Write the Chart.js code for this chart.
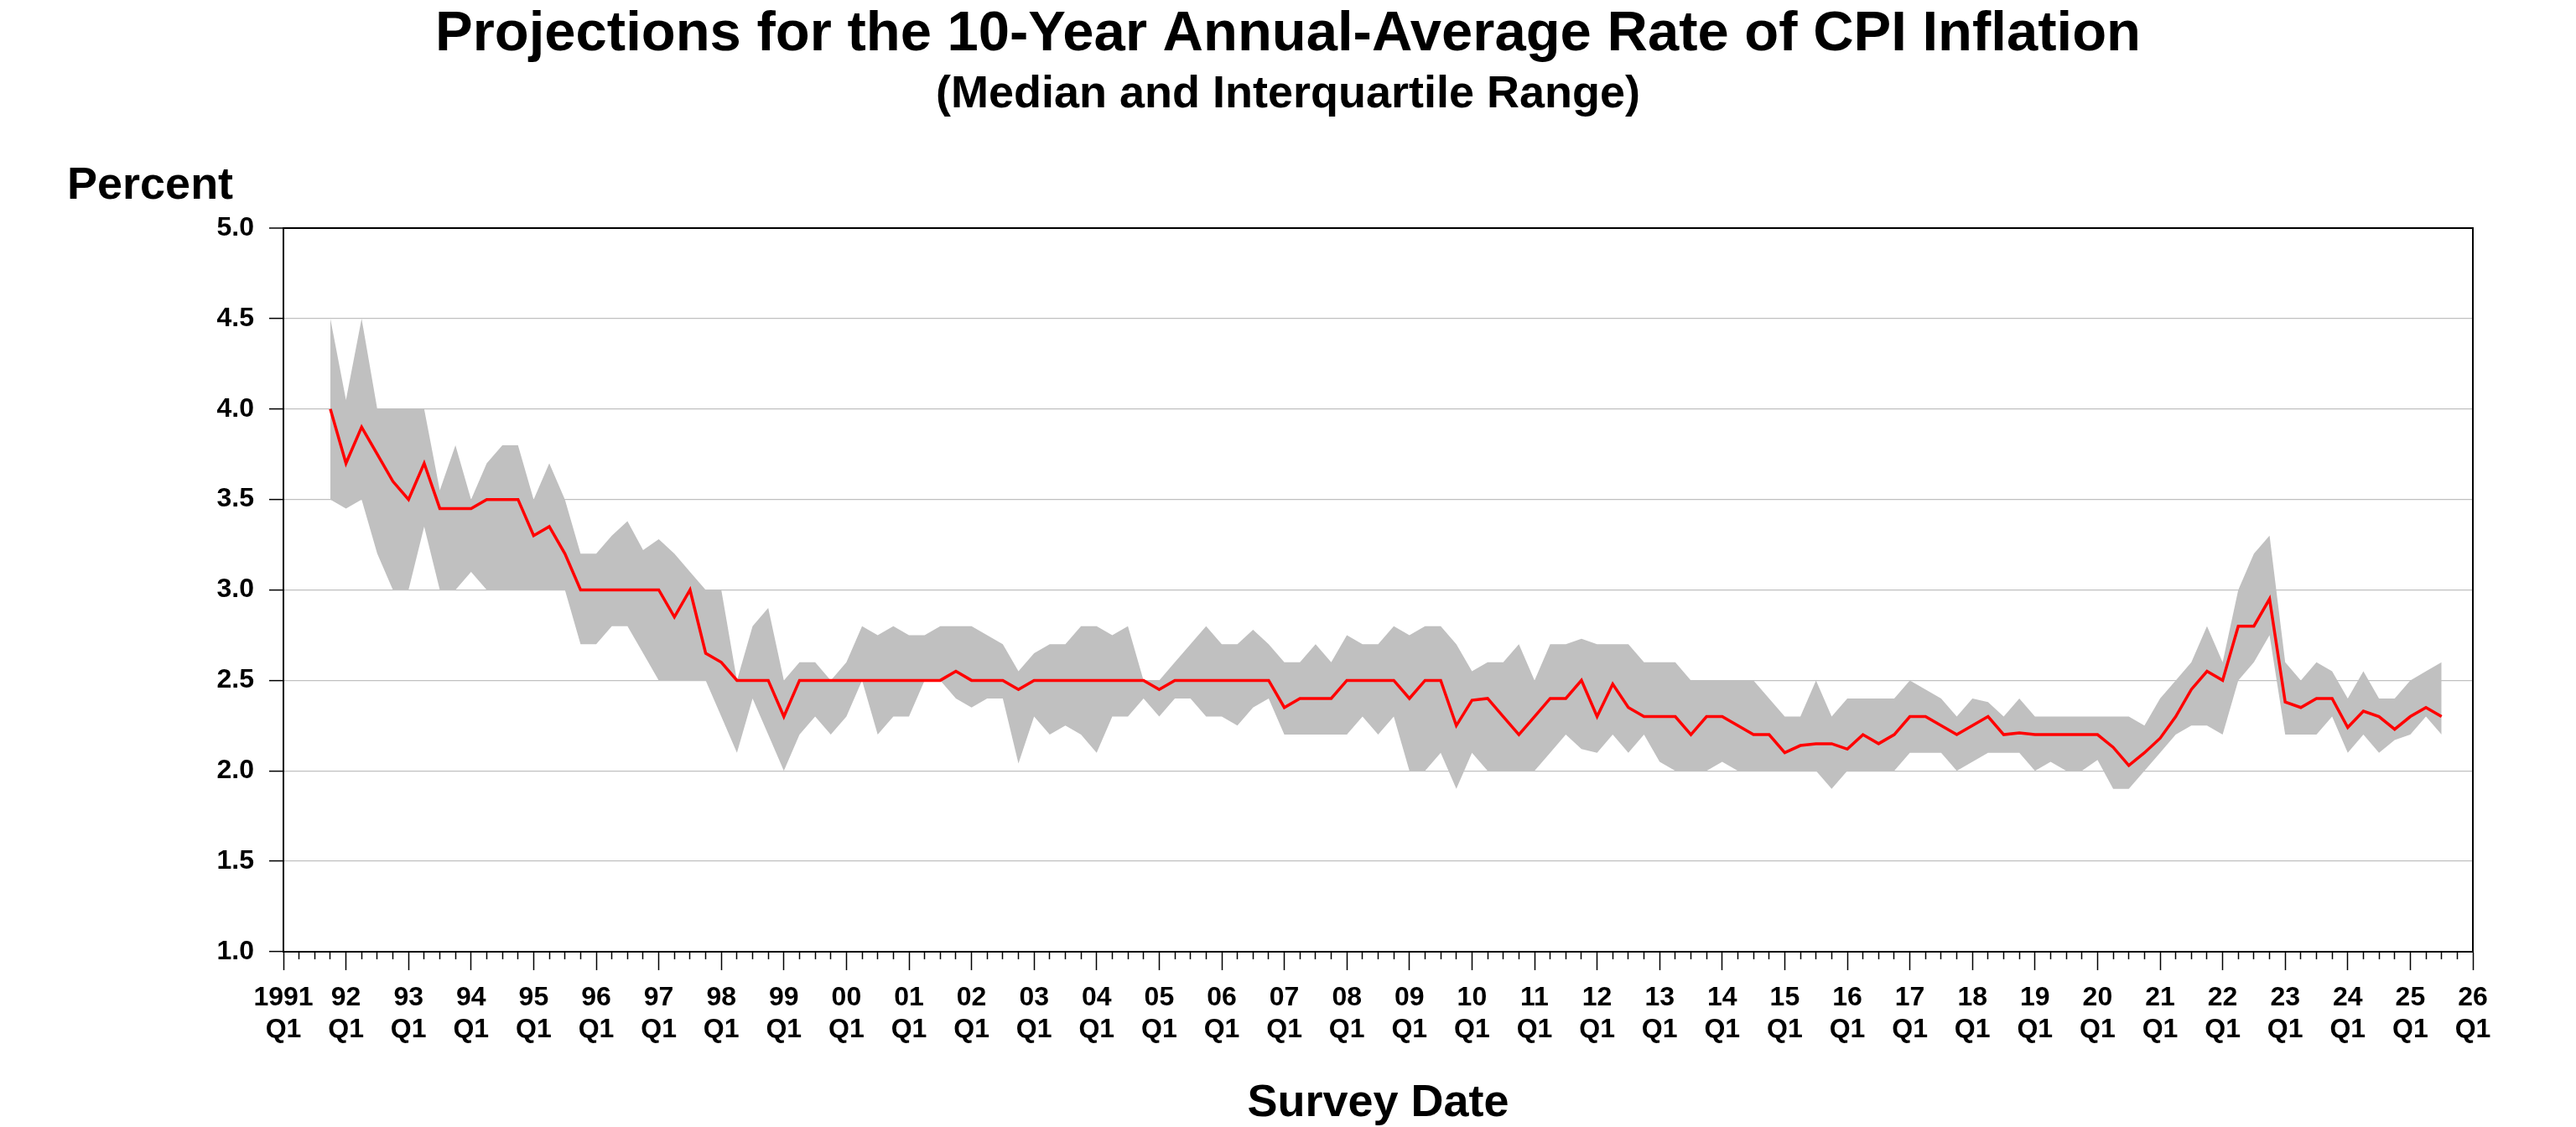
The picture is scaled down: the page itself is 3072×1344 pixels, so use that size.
<!DOCTYPE html>
<html>
<head>
<meta charset="utf-8">
<title>10-Year CPI Inflation Projections</title>
<script src="https://cdn.jsdelivr.net/npm/chart.js@4/dist/chart.umd.min.js"></script>
<style>
  body { margin: 0; background: #fff; }
  canvas { display: block; }
</style>
</head>
<body>
<canvas id="cpiChart" width="3072" height="1344"></canvas>
<script>
// survey data, one value per quarter starting 1991 Q4
var firstYear = 1991
var firstQuarter = 4

var median = [
    4.0,
    3.7, 3.9, 3.75, 3.6,
    3.5, 3.7, 3.45, 3.45,
    3.45, 3.5, 3.5, 3.5,
    3.3, 3.35, 3.2, 3.0,
    3.0, 3.0, 3.0, 3.0,
    3.0, 2.85, 3.0, 2.65,
    2.6, 2.5, 2.5, 2.5,
    2.3, 2.5, 2.5, 2.5,
    2.5, 2.5, 2.5, 2.5,
    2.5, 2.5, 2.5, 2.55,
    2.5, 2.5, 2.5, 2.45,
    2.5, 2.5, 2.5, 2.5,
    2.5, 2.5, 2.5, 2.5,
    2.45, 2.5, 2.5, 2.5,
    2.5, 2.5, 2.5, 2.5,
    2.35, 2.4, 2.4, 2.4,
    2.5, 2.5, 2.5, 2.5,
    2.4, 2.5, 2.5, 2.25,
    2.39, 2.4, 2.3, 2.2,
    2.3, 2.4, 2.4, 2.5,
    2.3, 2.48, 2.35, 2.3,
    2.3, 2.3, 2.2, 2.3,
    2.3, 2.25, 2.2, 2.2,
    2.1, 2.14, 2.15, 2.15,
    2.12, 2.2, 2.15, 2.2,
    2.3, 2.3, 2.25, 2.2,
    2.25, 2.3, 2.2, 2.21,
    2.2, 2.2, 2.2, 2.2,
    2.2, 2.13, 2.03, 2.1,
    2.18, 2.3, 2.45, 2.55,
    2.5, 2.8, 2.8, 2.95,
    2.38, 2.35, 2.4, 2.4,
    2.24, 2.33, 2.3, 2.23,
    2.3, 2.35, 2.3
]

var upperQuartile = [
    4.5,
    4.05, 4.5, 4.0, 4.0,
    4.0, 4.0, 3.55, 3.8,
    3.5, 3.7, 3.8, 3.8,
    3.5, 3.7, 3.5, 3.2,
    3.2, 3.3, 3.38, 3.22,
    3.28, 3.2, 3.1, 3.0,
    3.0, 2.5, 2.8, 2.9,
    2.5, 2.6, 2.6, 2.5,
    2.6, 2.8, 2.75, 2.8,
    2.75, 2.75, 2.8, 2.8,
    2.8, 2.75, 2.7, 2.55,
    2.65, 2.7, 2.7, 2.8,
    2.8, 2.75, 2.8, 2.5,
    2.5, 2.6, 2.7, 2.8,
    2.7, 2.7, 2.78, 2.7,
    2.6, 2.6, 2.7, 2.6,
    2.75, 2.7, 2.7, 2.8,
    2.75, 2.8, 2.8, 2.7,
    2.55, 2.6, 2.6, 2.7,
    2.5, 2.7, 2.7, 2.73,
    2.7, 2.7, 2.7, 2.6,
    2.6, 2.6, 2.5, 2.5,
    2.5, 2.5, 2.5, 2.4,
    2.3, 2.3, 2.5, 2.3,
    2.4, 2.4, 2.4, 2.4,
    2.5, 2.45, 2.4, 2.3,
    2.4, 2.38, 2.3, 2.4,
    2.3, 2.3, 2.3, 2.3,
    2.3, 2.3, 2.3, 2.25,
    2.4, 2.5, 2.6, 2.8,
    2.6, 3.0, 3.2, 3.3,
    2.6, 2.5, 2.6, 2.55,
    2.4, 2.55, 2.4, 2.4,
    2.5, 2.55, 2.6
]

var lowerQuartile = [
    3.5,
    3.45, 3.5, 3.2, 3.0,
    3.0, 3.35, 3.0, 3.0,
    3.1, 3.0, 3.0, 3.0,
    3.0, 3.0, 3.0, 2.7,
    2.7, 2.8, 2.8, 2.65,
    2.5, 2.5, 2.5, 2.5,
    2.3, 2.1, 2.4, 2.2,
    2.0, 2.2, 2.3, 2.2,
    2.3, 2.5, 2.2, 2.3,
    2.3, 2.5, 2.5, 2.4,
    2.35, 2.4, 2.4, 2.04,
    2.3, 2.2, 2.25, 2.2,
    2.1, 2.3, 2.3, 2.4,
    2.3, 2.4, 2.4, 2.3,
    2.3, 2.25, 2.35, 2.4,
    2.2, 2.2, 2.2, 2.2,
    2.2, 2.3, 2.2, 2.3,
    2.0, 2.0, 2.1, 1.9,
    2.1, 2.0, 2.0, 2.0,
    2.0, 2.1, 2.2, 2.12,
    2.1, 2.2, 2.1, 2.2,
    2.05, 2.0, 2.0, 2.0,
    2.05, 2.0, 2.0, 2.0,
    2.0, 2.0, 2.0, 1.9,
    2.0, 2.0, 2.0, 2.0,
    2.1, 2.1, 2.1, 2.0,
    2.05, 2.1, 2.1, 2.1,
    2.0, 2.05, 2.0, 2.0,
    2.06, 1.9, 1.9, 2.0,
    2.1, 2.2, 2.25, 2.25,
    2.2, 2.5, 2.6, 2.75,
    2.2, 2.2, 2.2, 2.3,
    2.1, 2.2, 2.1, 2.17,
    2.2, 2.3, 2.2
]

// labels under each Q1 tick, 1991 Q1 through 2026 Q1
var yearLabels = ['1991', '92', '93', '94', '95', '96', '97', '98', '99', '00',
    '01', '02', '03', '04', '05', '06', '07', '08', '09', '10',
    '11', '12', '13', '14', '15', '16', '17', '18', '19', '20',
    '21', '22', '23', '24', '25', '26']
var yTicks = [1.0, 1.5, 2.0, 2.5, 3.0, 3.5, 4.0, 4.5, 5.0]

// quarter index on the x axis: 0 = 1991 Q1
var offset = (firstYear - 1991) * 4 + (firstQuarter - 1)
function toPoints(values) {
    return values.map(function (v, i) { return {x: offset + i, y: v} })
}

Chart.defaults.font.family = "'Liberation Sans', Arial, sans-serif"
Chart.defaults.font.weight = 'bold'
Chart.defaults.color = '#000'

var percentLabel = {
    id: 'percentLabel',
    afterDraw: function (chart) {
        var c = chart.ctx
        c.save()
        c.font = "bold 54px 'Liberation Sans', Arial, sans-serif"
        c.fillStyle = '#000'
        c.textAlign = 'left'
        c.textBaseline = 'middle'
        c.fillText('Percent', 80, chart.chartArea.top - 50)
        c.restore()
    }
}

var ctx = document.getElementById('cpiChart').getContext('2d')
var chart = new Chart(ctx, {
    type: 'line',
    data: {
        datasets: [{
            label: 'Median',
            data: toPoints(median),
            borderColor: '#ff0000',
            borderWidth: 3.5,
            pointRadius: 0,
            fill: false,
            tension: 0
        }, {
            label: '75th percentile',
            data: toPoints(upperQuartile),
            borderWidth: 0,
            borderColor: 'rgba(0,0,0,0)',
            backgroundColor: '#c0c0c0',
            pointRadius: 0,
            fill: '+1'
        }, {
            label: '25th percentile',
            data: toPoints(lowerQuartile),
            borderWidth: 0,
            borderColor: 'rgba(0,0,0,0)',
            backgroundColor: '#c0c0c0',
            pointRadius: 0,
            fill: false
        }]
    },
    options: {
        responsive: false,
        devicePixelRatio: 1,
        animation: false,
        events: [],
        layout: {padding: 0},
        plugins: {
            legend: {display: false},
            tooltip: {enabled: false},
            title: {
                display: true,
                text: 'Projections for the 10-Year Annual-Average Rate of CPI Inflation',
                font: {size: 67, weight: 'bold', lineHeight: 1.1},
                color: '#000',
                padding: {top: 5, bottom: 0}
            },
            subtitle: {
                display: true,
                text: '(Median and Interquartile Range)',
                font: {size: 54, weight: 'bold', lineHeight: 1.2},
                color: '#000',
                padding: {top: 2, bottom: 126.5}
            }
        },
        scales: {
            x: {
                type: 'linear',
                min: 0,
                max: 140,
                afterFit: function (s) { s.height = 209 },
                ticks: {
                    stepSize: 1,
                    autoSkip: false,
                    maxTicksLimit: 500,
                    maxRotation: 0,
                    padding: 14,
                    font: {size: 32, weight: 'bold', lineHeight: 1.2},
                    callback: function (v) {
                        if (v % 4 !== 0) return ''
                        return [yearLabels[v / 4], 'Q1']
                    }
                },
                grid: {
                    drawOnChartArea: false,
                    tickLength: 22,
                    tickWidth: 1.5,
                    tickColor: '#000',
                    tickBorderDash: function (c) { return c.tick && c.tick.value % 4 === 0 ? [] : [8, 60] }
                },
                border: {color: '#000', width: 2},
                title: {
                    display: true,
                    text: 'Survey Date',
                    font: {size: 54, weight: 'bold', lineHeight: 1},
                    padding: {top: 0, bottom: 1}
                }
            },
            y: {
                min: 1,
                max: 5,
                afterFit: function (s) { s.width = 338 },
                afterBuildTicks: function (s) { s.ticks = yTicks.map(function (v) { return {value: v} }) },
                ticks: {
                    padding: 18,
                    font: {size: 32, weight: 'bold'},
                    callback: function (v) { return Number(v).toFixed(1) }
                },
                grid: {
                    color: function (c) { return c.tick && (c.tick.value === 5 || c.tick.value === 1) ? '#000' : '#c0c0c0' },
                    lineWidth: function (c) { return c.tick && c.tick.value === 5 ? 2 : 1.3 },
                    tickLength: 17,
                    tickColor: '#000',
                    tickWidth: 1.5
                },
                border: {color: '#000', width: 2}
            },
            y2: {
                position: 'right',
                min: 1,
                max: 5,
                afterFit: function (s) { s.width = 123 },
                ticks: {display: false},
                grid: {drawOnChartArea: false, drawTicks: false},
                border: {color: '#000', width: 2}
            }
        }
    },
    plugins: [percentLabel]
});
</script>
</body>
</html>
